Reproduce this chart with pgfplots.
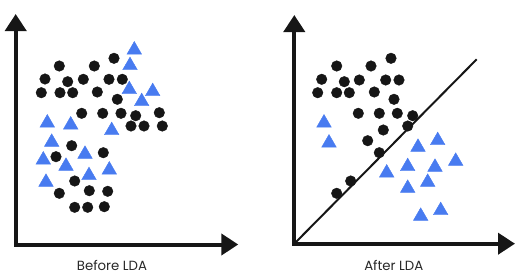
\documentclass[border=0pt]{standalone}
\usepackage{pgfplots}
\pgfplotsset{compat=1.18}
\usepackage{fontspec}
\setmainfont{Poppins}
\usetikzlibrary{arrows.meta}
\definecolor{triblue}{RGB}{72,123,240}
\definecolor{dotblack}{RGB}{22,22,22}
\definecolor{txt}{RGB}{40,40,40}
\pgfplotsset{
  ldapanel/.style={
    scale only axis,
    axis lines=left,
    axis line style={line width=4pt, line cap=rect, color=dotblack, -{Triangle[length=17pt,width=21pt]}},
    xtick=\empty, ytick=\empty,
    xmin=0, ymin=0,
    clip=false,
    anchor=origin,
  },
  dots/.style={only marks, mark=*, mark size=5.3pt, color=dotblack, mark options={draw=dotblack, fill=dotblack}},
  tris/.style={only marks, mark=triangle*, mark size=8.4pt, color=triblue, mark options={draw=triblue, fill=triblue}},
}
\begin{document}
\begin{tikzpicture}[x=1pt,y=1pt]
\path[use as bounding box] (0,0) rectangle (531,277);
% ---------------- Before LDA ----------------
\begin{axis}[ldapanel, at={(15.7pt,32.5pt)}, width=222.6pt, height=230.5pt, xmax=222.6, ymax=230.5]
\addplot[dots] coordinates {
(43.6,178.5) (78.6,178.5) (98.3,186.2) (29.3,165.5) (52.0,162.8) (67.6,165.2)
(93.3,165.2) (106.6,165.2) (25.6,151.8) (44.3,151.8) (57.0,151.8) (81.6,152.5)
(101.6,145.2) (66.0,131.2) (87.0,131.2) (105.3,131.2) (120.0,128.8) (143.6,131.8)
(115.3,118.5) (128.3,118.5) (146.6,118.5) (56.0,98.8) (40.3,87.8) (87.6,91.8)
(59.0,63.5) (43.6,51.2) (73.6,53.8) (92.0,53.2) (59.0,37.2) (72.0,37.2) (88.6,37.8)
};
\addplot[tris] coordinates {
(118.6,194.6) (114.3,179.0) (113.6,155.0) (137.0,153.0) (126.0,143.0)
(31.6,121.6) (55.0,119.6) (96.0,114.0) (36.0,102.3) (69.3,90.3)
(27.6,84.6) (50.3,78.3) (93.6,74.6) (73.3,69.0) (30.3,62.3)
};
\node[text=txt, font=\fontsize{13.3}{15}\selectfont] at (axis cs:96.3,-20.5) {Before LDA};
\end{axis}
% ---------------- After LDA ----------------
\begin{axis}[ldapanel, at={(294.3pt,33.3pt)}, width=220.7pt, height=228.7pt, xmax=220.7, ymax=228.7]
\addplot[dotblack, line width=2pt, no marks] coordinates {(0,0) (182.4,184.4)};
\addplot[dots] coordinates {
(42.4,177.7) (76.7,177.7) (96.7,185.4) (27.4,164.4) (50.0,162.0) (65.0,163.7)
(91.4,163.7) (104.7,163.7) (23.4,151.0) (42.4,151.0) (55.0,151.0) (80.0,151.7)
(99.7,144.4) (64.0,130.4) (85.0,130.4) (103.0,130.4) (118.4,128.0) (113.4,117.7)
(89.0,113.7) (73.4,103.0) (85.0,91.0) (56.4,62.7) (42.4,50.4)
};
\addplot[tris] coordinates {
(29.7,120.8) (34.7,100.8) (143.4,103.2) (123.7,96.5) (161.4,82.5) (113.4,77.2)
(140.7,76.5) (92.4,70.8) (133.4,61.5) (113.4,55.5) (146.4,33.2) (126.4,27.5)
};
\node[text=txt, font=\fontsize{13.3}{15}\selectfont] at (axis cs:99.5,-21.3) {After LDA};
\end{axis}
\end{tikzpicture}
\end{document}
